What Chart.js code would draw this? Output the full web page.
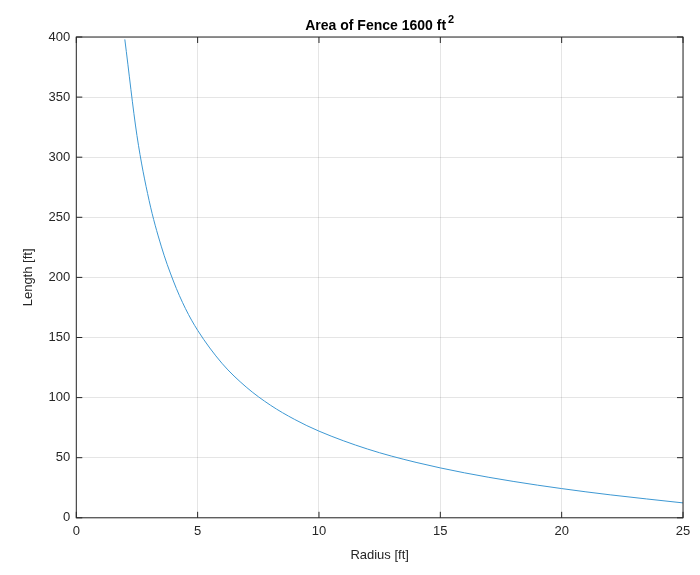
<!DOCTYPE html>
<html>
<head>
<meta charset="utf-8">
<script src="https://cdn.jsdelivr.net/npm/chart.js@4"></script>
<style>
  html, body { margin: 0; padding: 0; background: #fff; }
  #wrap { position: relative; width: 700px; height: 575px; }
</style>
</head>
<body>
<div id="wrap"><canvas id="fenceChart"></canvas></div>
<script>
var radius = [2, 2.5, 3, 3.5, 4, 4.5, 5, 6, 7, 8, 9, 10, 12, 14, 16, 18, 20, 22, 25];
var length = [398, 318, 264, 226, 197, 174, 156, 128.6, 108.8, 93.7, 81.8, 72.1, 57.2, 46.1, 37.4, 30.3, 24.3, 19.1, 12.4];
var xTicks = [0, 5, 10, 15, 20, 25];
var yTicks = [0, 50, 100, 150, 200, 250, 300, 350, 400];

var points = radius.map(function (r, i) { return { x: r, y: length[i] }; });

var boxPlugin = {
  id: "box",
  afterDraw: function (chart) {
    var a = chart.chartArea, ctx = chart.ctx;
    ctx.save();
    ctx.strokeStyle = "#262626";
    ctx.lineWidth = 1;
    ctx.strokeRect(a.left, a.top, a.right - a.left, a.bottom - a.top);
    // ticks on all four sides
    ctx.beginPath();
    chart.scales.x.ticks.forEach(function (t) {
      var px = chart.scales.x.getPixelForValue(t.value);
      ctx.moveTo(px, a.top); ctx.lineTo(px, a.top + 6);
      ctx.moveTo(px, a.bottom); ctx.lineTo(px, a.bottom - 6);
    });
    chart.scales.y.ticks.forEach(function (t) {
      var py = chart.scales.y.getPixelForValue(t.value);
      ctx.moveTo(a.right, py); ctx.lineTo(a.right - 6, py);
      ctx.moveTo(a.left, py); ctx.lineTo(a.left + 6, py);
    });
    ctx.stroke();
    // title with superscript
    ctx.fillStyle = "#000";
    ctx.font = "bold 14px 'Liberation Sans', Arial, sans-serif";
    ctx.textBaseline = "alphabetic";
    var main = "Area of Fence 1600 ft";
    var w = ctx.measureText(main).width;
    var cx = (a.left + a.right) / 2;
    ctx.textAlign = "left";
    ctx.fillText(main, cx - w / 2 - 4, 30);
    ctx.font = "bold 11px 'Liberation Sans', Arial, sans-serif";
    ctx.fillText("2", cx + w / 2 - 2, 23);
    ctx.restore();
  }
};

new Chart(document.getElementById("fenceChart"), {
  type: "scatter",
  data: {
    datasets: [{
      data: points,
      showLine: true,
      borderColor: "#3d98d3",
      borderWidth: 1,
      pointRadius: 0,
      cubicInterpolationMode: "monotone"
    }]
  },
  options: {
    responsive: true,
    maintainAspectRatio: false,
    animation: false,
    layout: { padding: { top: 37, right: 17, left: 17, bottom: 8 } },
    plugins: { legend: { display: false }, tooltip: { enabled: false } },
    scales: {
      x: {
        type: "linear", min: 0, max: 25,
        afterBuildTicks: function (s) { s.ticks = xTicks.map(function (v) { return { value: v }; }); },
        grid: { color: "rgba(0,0,0,0.1)", drawTicks: false },
        border: { display: false },
        ticks: { color: "#262626", padding: 6, font: { size: 13, family: "'Liberation Sans', Arial" } },
        title: { display: true, text: "Radius [ft]", color: "#262626", font: { size: 13, family: "'Liberation Sans', Arial" }, padding: { top: 2 } }
      },
      y: {
        type: "linear", min: 0, max: 400,
        afterBuildTicks: function (s) { s.ticks = yTicks.map(function (v) { return { value: v }; }); },
        grid: { color: "rgba(0,0,0,0.1)", drawTicks: false },
        border: { display: false },
        ticks: { color: "#262626", padding: 6, font: { size: 13, family: "'Liberation Sans', Arial" } },
        title: { display: true, text: "Length [ft]", color: "#262626", font: { size: 13, family: "'Liberation Sans', Arial" }, padding: { bottom: 6 } }
      }
    }
  },
  plugins: [boxPlugin]
});
</script>
</body>
</html>
